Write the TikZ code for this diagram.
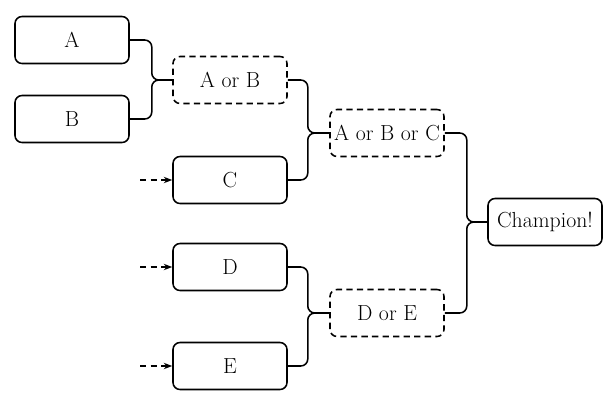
\documentclass[tikz,border=0pt]{standalone}
\usetikzlibrary{arrows.meta}

\begin{document}
\begin{tikzpicture}[
    font=\fontsize{15.5}{18}\selectfont,
    team/.style={draw,line width=1.1pt,rounded corners=5pt,inner sep=0pt,minimum width=2.85cm,minimum height=1.175cm},
    winner/.style={team,dash pattern=on 4.5pt off 3pt},
    bracket/.style={line width=1.1pt,rounded corners=5pt},
    bye/.style={line width=1.1pt,dash pattern=on 4.5pt off 3pt,-{Stealth[length=6pt]}}
]
    \useasboundingbox (0,0) rectangle (15.4,-10.15);

    % First round
    \node[team] (A) at (1.8,-1.0) {A};
    \node[team] (B) at (1.8,-2.975) {B};
    \node[team] (C) at (5.75,-4.5) {C};
    \node[team] (D) at (5.75,-6.675) {D};
    \node[team] (E) at (5.75,-9.15) {E};

    % Winners
    \node[winner] (AB) at (5.75,-2.0) {A or B};
    \node[winner] (ABC) at (9.675,-3.325) {A or B or C};
    \node[winner] (DE) at (9.675,-7.825) {D or E};
    \node[team] (champ) at (13.625,-5.55) {Champion!};

    % Byes
    \coordinate (cin) at (3.5,-4.5);
    \coordinate (din) at (3.5,-6.675);
    \coordinate (ein) at (3.5,-9.15);
    \draw[bye] (cin) -- (C.west);
    \draw[bye] (din) -- (D.west);
    \draw[bye] (ein) -- (E.west);

    % Brackets
    \draw[bracket] (A.east) -- ++(0.55,0) |- (AB.west);
    \draw[bracket] (B.east) -- ++(0.55,0) |- (AB.west);
    \draw[bracket] (AB.east) -- ++(0.5,0) |- (ABC.west);
    \draw[bracket] (C.east) -- ++(0.5,0) |- (ABC.west);
    \draw[bracket] (D.east) -- ++(0.5,0) |- (DE.west);
    \draw[bracket] (E.east) -- ++(0.5,0) |- (DE.west);
    \draw[bracket] (ABC.east) -- ++(0.55,0) |- (champ.west);
    \draw[bracket] (DE.east) -- ++(0.55,0) |- (champ.west);
\end{tikzpicture}
\end{document}
